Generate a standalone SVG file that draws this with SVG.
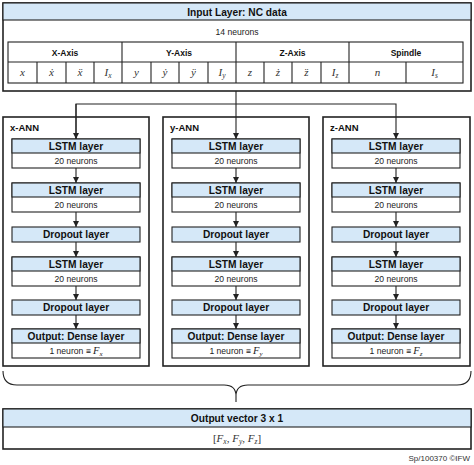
<svg xmlns="http://www.w3.org/2000/svg" width="474" height="465" viewBox="0 0 474 465">
<style>
.outer{fill:#fff;stroke:#222;stroke-width:1.6}
.box{fill:#fff;stroke:#222;stroke-width:1.1}
.hdr{fill:#d5e8f8;stroke:#222;stroke-width:1.1}
.cell{fill:none;stroke:#222;stroke-width:1.1}
.bt{font-family:"Liberation Sans",Arial,sans-serif;font-weight:bold;font-size:10.2px;fill:#111;text-anchor:middle}
.rt{font-family:"Liberation Sans",Arial,sans-serif;font-size:8.6px;fill:#222;text-anchor:middle}
.gt{font-family:"Liberation Sans",Arial,sans-serif;font-weight:bold;font-size:8.5px;fill:#111;text-anchor:middle}
.tt{font-family:"Liberation Sans",Arial,sans-serif;font-weight:bold;font-size:9.5px;fill:#111}
.m{font-family:"Liberation Serif","Times New Roman",serif;font-style:italic;font-size:11px;fill:#333;text-anchor:middle}
.mr{font-family:"Liberation Serif","Times New Roman",serif;font-size:11px;fill:#333}
.mi{font-family:"Liberation Serif","Times New Roman",serif;font-style:italic}
.con{fill:none;stroke:#222;stroke-width:1.1}
.cr{font-family:"Liberation Sans",Arial,sans-serif;font-size:8px;fill:#333;text-anchor:end}
</style>
<defs>
<marker id="arr" markerWidth="8" markerHeight="8" refX="6" refY="3" orient="auto" markerUnits="userSpaceOnUse">
<path d="M0,0 L6,3 L0,6 Z" fill="#222"/>
</marker>
</defs>

<g id="input-layer">
<rect class="outer" x="3" y="3" width="468" height="88"/>
<rect class="hdr" x="3" y="3" width="468" height="17"/>
<text class="bt" x="237" y="15.5">Input Layer: NC data</text>
<text class="rt" x="237" y="34.5" font-size="8.2">14 neurons</text>
<rect class="cell" x="8" y="42" width="455" height="41"/>
<line class="cell" x1="8" y1="62" x2="463" y2="62"/>
<line class="cell" x1="122" y1="42" x2="122" y2="83"/>
<line class="cell" x1="236" y1="42" x2="236" y2="83"/>
<line class="cell" x1="349" y1="42" x2="349" y2="83"/>
<line class="cell" x1="37" y1="62" x2="37" y2="83"/>
<line class="cell" x1="66" y1="62" x2="66" y2="83"/>
<line class="cell" x1="94" y1="62" x2="94" y2="83"/>
<line class="cell" x1="151" y1="62" x2="151" y2="83"/>
<line class="cell" x1="179" y1="62" x2="179" y2="83"/>
<line class="cell" x1="208" y1="62" x2="208" y2="83"/>
<line class="cell" x1="264" y1="62" x2="264" y2="83"/>
<line class="cell" x1="292" y1="62" x2="292" y2="83"/>
<line class="cell" x1="321" y1="62" x2="321" y2="83"/>
<line class="cell" x1="406" y1="62" x2="406" y2="83"/>
<text class="gt" x="65" y="55.5">X-Axis</text>
<text class="gt" x="179" y="55.5">Y-Axis</text>
<text class="gt" x="292.5" y="55.5">Z-Axis</text>
<text class="gt" x="406" y="55.5">Spindle</text>
<text class="m" x="22.5" y="76">x</text>
<text class="m" x="51.5" y="76">ẋ</text>
<text class="m" x="80" y="76">ẍ</text>
<text class="m" x="108" y="76">I<tspan font-size="7.5" dy="2">x</tspan></text>
<text class="m" x="136.5" y="76">y</text>
<text class="m" x="165" y="76">ẏ</text>
<text class="m" x="193.5" y="76">ÿ</text>
<text class="m" x="222" y="76">I<tspan font-size="7.5" dy="2">y</tspan></text>
<text class="m" x="250" y="76">z</text>
<text class="m" x="278" y="76">ż</text>
<text class="m" x="306.5" y="76">z̈</text>
<text class="m" x="335" y="76">I<tspan font-size="7.5" dy="2">z</tspan></text>
<text class="m" x="377.5" y="76">n</text>
<text class="m" x="434.5" y="76">I<tspan font-size="7.5" dy="2">s</tspan></text>
</g>

<g id="x-ann">
<rect class="outer" x="3" y="117" width="146" height="249"/>
<text class="tt" x="10" y="131">x-ANN</text>
<g id="x-lstm1"><rect class="box" x="12" y="139" width="128" height="29"/><rect class="hdr" x="12" y="139" width="128" height="14"/><text class="bt" x="76" y="149.8">LSTM layer</text><text class="rt" x="76" y="163.8">20 neurons</text></g>
<g id="x-lstm2"><rect class="box" x="12" y="183" width="128" height="29"/><rect class="hdr" x="12" y="183" width="128" height="14"/><text class="bt" x="76" y="193.8">LSTM layer</text><text class="rt" x="76" y="207.8">20 neurons</text></g>
<g id="x-drop1"><rect class="hdr" x="12" y="227" width="128" height="15"/><text class="bt" x="76" y="238.2">Dropout layer</text></g>
<g id="x-lstm3"><rect class="box" x="12" y="257" width="128" height="29"/><rect class="hdr" x="12" y="257" width="128" height="14"/><text class="bt" x="76" y="267.8">LSTM layer</text><text class="rt" x="76" y="281.8">20 neurons</text></g>
<g id="x-drop2"><rect class="hdr" x="12" y="300" width="128" height="15"/><text class="bt" x="76" y="311.2">Dropout layer</text></g>
<g id="x-out"><rect class="box" x="12" y="329" width="128" height="29"/><rect class="hdr" x="12" y="329" width="128" height="14"/><text class="bt" x="76" y="339.8">Output: Dense layer</text><text class="rt" x="76" y="353.8">1 neuron ≡ <tspan class="mi" font-size="10.5">F</tspan><tspan class="mi" font-size="7" dy="2">x</tspan></text></g>
</g>

<g id="y-ann">
<rect class="outer" x="163" y="117" width="146" height="249"/>
<text class="tt" x="170" y="131">y-ANN</text>
<g id="y-lstm1"><rect class="box" x="172" y="139" width="128" height="29"/><rect class="hdr" x="172" y="139" width="128" height="14"/><text class="bt" x="236" y="149.8">LSTM layer</text><text class="rt" x="236" y="163.8">20 neurons</text></g>
<g id="y-lstm2"><rect class="box" x="172" y="183" width="128" height="29"/><rect class="hdr" x="172" y="183" width="128" height="14"/><text class="bt" x="236" y="193.8">LSTM layer</text><text class="rt" x="236" y="207.8">20 neurons</text></g>
<g id="y-drop1"><rect class="hdr" x="172" y="227" width="128" height="15"/><text class="bt" x="236" y="238.2">Dropout layer</text></g>
<g id="y-lstm3"><rect class="box" x="172" y="257" width="128" height="29"/><rect class="hdr" x="172" y="257" width="128" height="14"/><text class="bt" x="236" y="267.8">LSTM layer</text><text class="rt" x="236" y="281.8">20 neurons</text></g>
<g id="y-drop2"><rect class="hdr" x="172" y="300" width="128" height="15"/><text class="bt" x="236" y="311.2">Dropout layer</text></g>
<g id="y-out"><rect class="box" x="172" y="329" width="128" height="29"/><rect class="hdr" x="172" y="329" width="128" height="14"/><text class="bt" x="236" y="339.8">Output: Dense layer</text><text class="rt" x="236" y="353.8">1 neuron ≡ <tspan class="mi" font-size="10.5">F</tspan><tspan class="mi" font-size="7" dy="2">y</tspan></text></g>
</g>

<g id="z-ann">
<rect class="outer" x="323" y="117" width="147" height="249"/>
<text class="tt" x="330" y="131">z-ANN</text>
<g id="z-lstm1"><rect class="box" x="332" y="139" width="128" height="29"/><rect class="hdr" x="332" y="139" width="128" height="14"/><text class="bt" x="396" y="149.8">LSTM layer</text><text class="rt" x="396" y="163.8">20 neurons</text></g>
<g id="z-lstm2"><rect class="box" x="332" y="183" width="128" height="29"/><rect class="hdr" x="332" y="183" width="128" height="14"/><text class="bt" x="396" y="193.8">LSTM layer</text><text class="rt" x="396" y="207.8">20 neurons</text></g>
<g id="z-drop1"><rect class="hdr" x="332" y="227" width="128" height="15"/><text class="bt" x="396" y="238.2">Dropout layer</text></g>
<g id="z-lstm3"><rect class="box" x="332" y="257" width="128" height="29"/><rect class="hdr" x="332" y="257" width="128" height="14"/><text class="bt" x="396" y="267.8">LSTM layer</text><text class="rt" x="396" y="281.8">20 neurons</text></g>
<g id="z-drop2"><rect class="hdr" x="332" y="300" width="128" height="15"/><text class="bt" x="396" y="311.2">Dropout layer</text></g>
<g id="z-out"><rect class="box" x="332" y="329" width="128" height="29"/><rect class="hdr" x="332" y="329" width="128" height="14"/><text class="bt" x="396" y="339.8">Output: Dense layer</text><text class="rt" x="396" y="353.8">1 neuron ≡ <tspan class="mi" font-size="10.5">F</tspan><tspan class="mi" font-size="7" dy="2">z</tspan></text></g>
</g>

<g id="connectors">
<line class="con" x1="236" y1="91" x2="236" y2="139" marker-end="url(#arr)"/>
<polyline class="con" points="76,139 76,104 396,104 396,139" marker-end="url(#arr)"/>
<line class="con" x1="76" y1="104" x2="76" y2="139" marker-end="url(#arr)"/>
<line class="con" x1="76" y1="168" x2="76" y2="183" marker-end="url(#arr)"/>
<line class="con" x1="76" y1="212" x2="76" y2="227" marker-end="url(#arr)"/>
<line class="con" x1="76" y1="242" x2="76" y2="257" marker-end="url(#arr)"/>
<line class="con" x1="76" y1="286" x2="76" y2="300" marker-end="url(#arr)"/>
<line class="con" x1="76" y1="315" x2="76" y2="329" marker-end="url(#arr)"/>
<line class="con" x1="236" y1="168" x2="236" y2="183" marker-end="url(#arr)"/>
<line class="con" x1="236" y1="212" x2="236" y2="227" marker-end="url(#arr)"/>
<line class="con" x1="236" y1="242" x2="236" y2="257" marker-end="url(#arr)"/>
<line class="con" x1="236" y1="286" x2="236" y2="300" marker-end="url(#arr)"/>
<line class="con" x1="236" y1="315" x2="236" y2="329" marker-end="url(#arr)"/>
<line class="con" x1="396" y1="168" x2="396" y2="183" marker-end="url(#arr)"/>
<line class="con" x1="396" y1="212" x2="396" y2="227" marker-end="url(#arr)"/>
<line class="con" x1="396" y1="242" x2="396" y2="257" marker-end="url(#arr)"/>
<line class="con" x1="396" y1="286" x2="396" y2="300" marker-end="url(#arr)"/>
<line class="con" x1="396" y1="315" x2="396" y2="329" marker-end="url(#arr)"/>
<path class="con" stroke-width="1.5" d="M3,371 Q3,385 17,385 L224,385 Q236,385 236,396 L236,402 M236,396 Q236,385 248,385 L457,385 Q471,385 471,371"/>
</g>

<g id="output-vector">
<rect class="outer" x="3" y="409" width="468" height="40"/>
<rect class="hdr" x="3" y="409" width="468" height="18"/>
<text class="bt" x="237" y="421.8">Output vector 3 x 1</text>
<text class="mr" x="237" y="442" text-anchor="middle">[<tspan class="mi">F</tspan><tspan class="mi" font-size="7.5" dy="2">x</tspan><tspan dy="-2">, </tspan><tspan class="mi">F</tspan><tspan class="mi" font-size="7.5" dy="2">y</tspan><tspan dy="-2">, </tspan><tspan class="mi">F</tspan><tspan class="mi" font-size="7.5" dy="2">z</tspan><tspan dy="-2">]</tspan></text>
</g>

<text class="cr" x="470" y="461">Sp/100370 ©IFW</text>
</svg>
